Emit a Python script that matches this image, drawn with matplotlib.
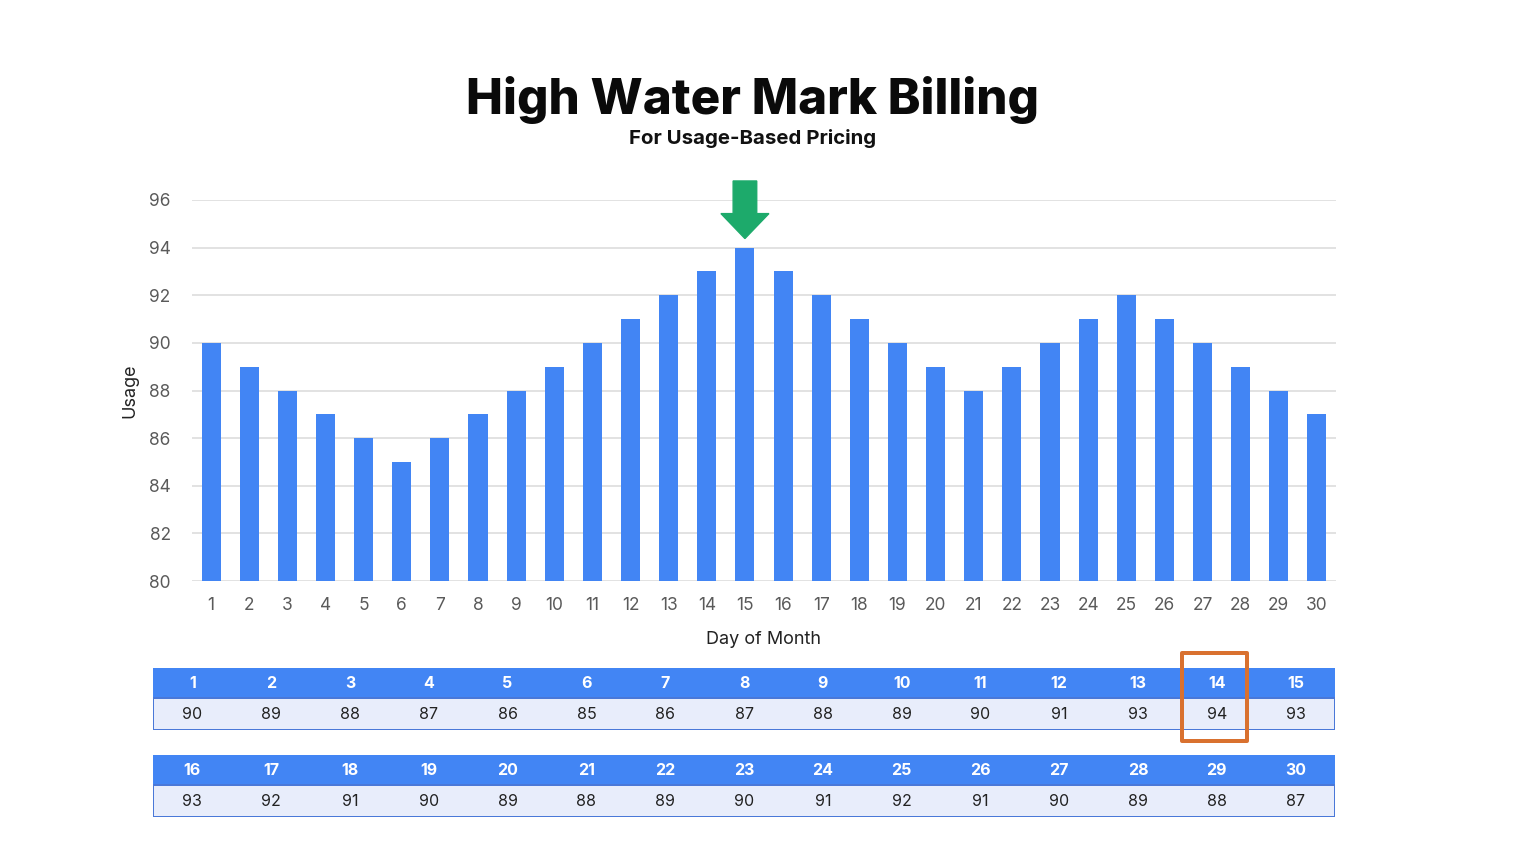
import matplotlib
matplotlib.use("Agg")
import matplotlib.pyplot as plt
from matplotlib.patches import Rectangle, Polygon

plt.rcParams['font.family'] = ['Inter', 'DejaVu Sans']

# ---- data ----
days = list(range(1, 31))
usage = [90, 89, 88, 87, 86, 85, 86, 87, 88, 89, 90, 91, 92, 93, 94,
         93, 92, 91, 90, 89, 88, 89, 90, 91, 92, 91, 90, 89, 88, 87]
table_days_1 = list(range(1, 16))
table_vals_1 = [90, 89, 88, 87, 86, 85, 86, 87, 88, 89, 90, 91, 93, 94, 93]
table_days_2 = list(range(16, 31))
table_vals_2 = [93, 92, 91, 90, 89, 88, 89, 90, 91, 92, 91, 90, 89, 88, 87]
y_ticks = [80, 82, 84, 86, 88, 90, 92, 94, 96]
highlight_day = 14

W, H = 1536, 864
BLUE = '#4285F4'
fig = plt.figure(figsize=(W / 96, H / 96), dpi=96)


def frac(x0, y0, x1, y1):
    return [x0 / W, 1 - y1 / H, (x1 - x0) / W, (y1 - y0) / H]


ax = fig.add_axes(frac(192, 200, 1336, 581))
ax.bar(days, usage, width=0.5, color=BLUE, zorder=3)
ax.set_xlim(0.5, 30.5)
ax.set_ylim(80, 96)
ax.set_yticks(y_ticks)
ax.set_xticks(days)
ax.grid(axis='y', color='#dcdcdc', linewidth=1.2, zorder=0)
for s in ax.spines.values():
    s.set_visible(False)
ax.tick_params(length=0, labelsize=13, labelcolor='#5a5a5a')
ax.tick_params(axis='x', pad=12)
ax.tick_params(axis='y', pad=16)
ax.set_xlabel('Day of Month', fontsize=13.5, color='#222222', labelpad=13)
ax.set_ylabel('Usage', fontsize=13.5, color='#222222', labelpad=8)

# green arrow over peak
pk = usage.index(max(usage))
px, py = days[pk], usage[pk]
arrow = Polygon([(px - 0.31, py + 2.8), (px + 0.31, py + 2.8), (px + 0.31, py + 1.43),
                 (px + 0.63, py + 1.43), (px, py + 0.38), (px - 0.63, py + 1.43),
                 (px - 0.31, py + 1.43)], closed=True, color='#1daa6b',
                clip_on=False, zorder=5)
ax.add_patch(arrow)

# titles
fig.text(753 / W, 1 - 100 / H, 'High Water Mark Billing', ha='center', va='center',
         fontsize=37, fontweight='heavy', color='#0a0a0a')
fig.text(753 / W, 1 - 138 / H, 'For Usage-Based Pricing', ha='center', va='center',
         fontsize=15.3, fontweight='bold', color='#111111')


def draw_table(y0, dlist, vlist, highlight=None):
    tax = fig.add_axes(frac(153, y0, 1335, y0 + 62))
    tax.set_xlim(0, 15)
    tax.set_ylim(0, 2)
    tax.axis('off')
    tax.add_patch(Rectangle((0, 1.03), 15, 0.97, color=BLUE, lw=0))
    tax.add_patch(Rectangle((0, 0), 15, 1.03, facecolor='#e8edfb',
                            edgecolor='#4a78d8', lw=1.5))
    for i, (d, v) in enumerate(zip(dlist, vlist)):
        tax.text(i + 0.5, 1.5, str(d), ha='center', va='center', color='white',
                 fontsize=12, fontweight='bold')
        tax.text(i + 0.5, 0.5, str(v), ha='center', va='center', color='#222222',
                 fontsize=12)
    if highlight is not None and highlight in dlist:
        i = dlist.index(highlight)
        tax.add_patch(Rectangle((i + 0.06, -0.35), 0.82, 2.84, fill=False,
                                edgecolor='#d9712f', lw=3, clip_on=False,
                                joinstyle='round'))


draw_table(668, table_days_1, table_vals_1, highlight_day)
draw_table(755, table_days_2, table_vals_2)

fig.savefig('out.png', dpi=96, facecolor='white')
